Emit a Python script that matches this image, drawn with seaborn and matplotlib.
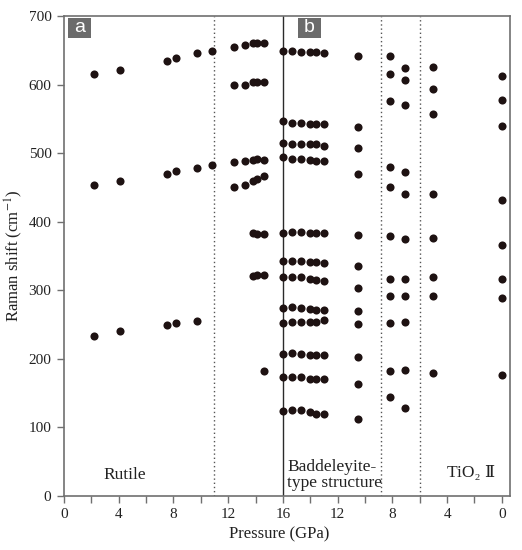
import pandas as pd
import numpy as np
import matplotlib.pyplot as plt
import seaborn as sns
from matplotlib.patches import Rectangle


# compression run (panel a), pressure in GPa -> Raman shifts (cm-1)
comp_pressure = [2.2, 4.1, 7.5, 8.2, 9.7, 10.8, 12.4, 13.2, 13.8, 14.1, 14.6]
comp_shift = [
    [615, 454, 233],
    [621, 460, 240],
    [634, 470, 249],
    [639, 474, 252],
    [646, 478, 255],
    [649, 483],
    [655, 599, 487, 451],
    [658, 599, 489, 454],
    [660, 604, 490, 459, 383, 321],
    [660, 604, 491, 462, 382, 323],
    [660, 604, 490, 466, 382, 323, 183],
]

# decompression run (panel b)
decomp_pressure = [16.0, 15.3, 14.7, 14.0, 13.6, 13.0, 10.5, 8.2, 7.1, 5.0, 0.0]
decomp_shift = [
    [649, 547, 515, 494, 384, 343, 320, 274, 252, 207, 173, 124],
    [649, 544, 514, 492, 385, 343, 319, 275, 254, 209, 174, 126],
    [647, 544, 514, 492, 385, 342, 319, 274, 254, 207, 174, 125],
    [647, 543, 513, 490, 384, 341, 316, 272, 254, 205, 171, 122],
    [647, 543, 513, 489, 384, 341, 315, 271, 254, 205, 171, 120],
    [646, 543, 510, 488, 383, 340, 313, 271, 257, 205, 171, 119],
    [641, 538, 507, 470, 380, 336, 304, 270, 251, 202, 164, 112],
    [641, 615, 576, 480, 451, 379, 317, 291, 253, 182, 144],
    [624, 607, 570, 472, 441, 375, 316, 291, 254, 184, 129],
    [626, 594, 557, 441, 376, 319, 291, 180],
    [613, 577, 540, 432, 366, 317, 289, 176],
]

phase_bounds = [11.0, 8.85, 5.95]   # rutile/baddeleyite, baddeleyite/TiO2 II
tick_labels = ['0', '4', '8', '12', '16', '12', '8', '4', '0']

DOT = '#1e1212'
P_MAX = 16

rows = []
for p, vals in zip(comp_pressure, comp_shift):
    for v in vals:
        rows.append({'pos': p, 'shift': v, 'run': 'compression'})
for p, vals in zip(decomp_pressure, decomp_shift):
    for v in vals:
        # right panel runs backwards from 16 to 0
        rows.append({'pos': 2 * P_MAX - p, 'shift': v, 'run': 'decompression'})
df = pd.DataFrame(rows)

sns.set_style('ticks')
plt.rcParams['font.family'] = ['Liberation Serif', 'DejaVu Serif', 'DejaVu Sans']
plt.rcParams['mathtext.fontset'] = 'stix'

fig = plt.figure(figsize=(5.22, 5.5), dpi=100)
ax = fig.add_axes([64 / 522, 54 / 550, 446 / 522, 480 / 550])

sns.scatterplot(data=df, x='pos', y='shift', color=DOT, s=34, linewidth=0,
                legend=False, ax=ax, zorder=3)

ax.set_xlim(0, 32.6)
ax.set_ylim(0, 700)

# panel divider and phase boundaries
ax.axvline(P_MAX, color='#2a2a2a', lw=1.0, zorder=2)
ax.axvline(phase_bounds[0], color='#555555', lw=1.0, ls=(0, (1, 2)))
ax.axvline(2 * P_MAX - phase_bounds[1], color='#555555', lw=1.0, ls=(0, (1, 2)))
ax.axvline(2 * P_MAX - phase_bounds[2], color='#555555', lw=1.0, ls=(0, (1, 2)))

ax.set_xticks(np.arange(0, 33, 4))
ax.set_xticklabels(tick_labels)
ax.set_xticks(np.arange(0, 33, 2), minor=True)
ax.set_yticks(np.arange(0, 701, 100))
ax.tick_params(axis='both', which='both', direction='out', length=5, width=1,
               color='#707070', labelsize=11, pad=4, labelcolor='#222222')

for s in ax.spines.values():
    s.set_color('#707070')
    s.set_linewidth(1.2)

ax.set_xlabel('Pressure (GPa)', fontsize=12, color='#222222')
ax.set_ylabel('Raman shift (cm$^{-1}$)', fontsize=12, color='#222222')
ax.xaxis.set_label_coords(0.482, -0.081)
ax.yaxis.set_label_coords(-0.112, 0.5)
ax.xaxis.label.set_va('center')
ax.yaxis.label.set_va('center')

# phase names
ax.text(2.85, 31, 'Rutile', fontsize=12.5, ha='left', va='center', color='#222222')
ax.text(16.3, 30, 'Baddeleyite-\ntype structure', fontsize=12.5, ha='left',
        va='center', linespacing=1.0, color='#222222')
ax.text(29.75, 33, 'TiO₂ Ⅱ', fontsize=12.5, ha='center', va='center',
        color='#222222')

# panel tags
for x0, tag in [(0.0096, 'a'), (0.5254, 'b')]:
    ax.add_patch(Rectangle((x0, 0.9548), 0.0502, 0.0417, transform=ax.transAxes,
                           facecolor='#6b6b6b', edgecolor='none', zorder=4))
    ax.text(x0 + 0.0251, 0.9757, tag, transform=ax.transAxes, ha='center',
            va='center', color='white', fontsize=14, family='Liberation Sans',
            zorder=5)

fig.savefig('out.png', dpi=100)
